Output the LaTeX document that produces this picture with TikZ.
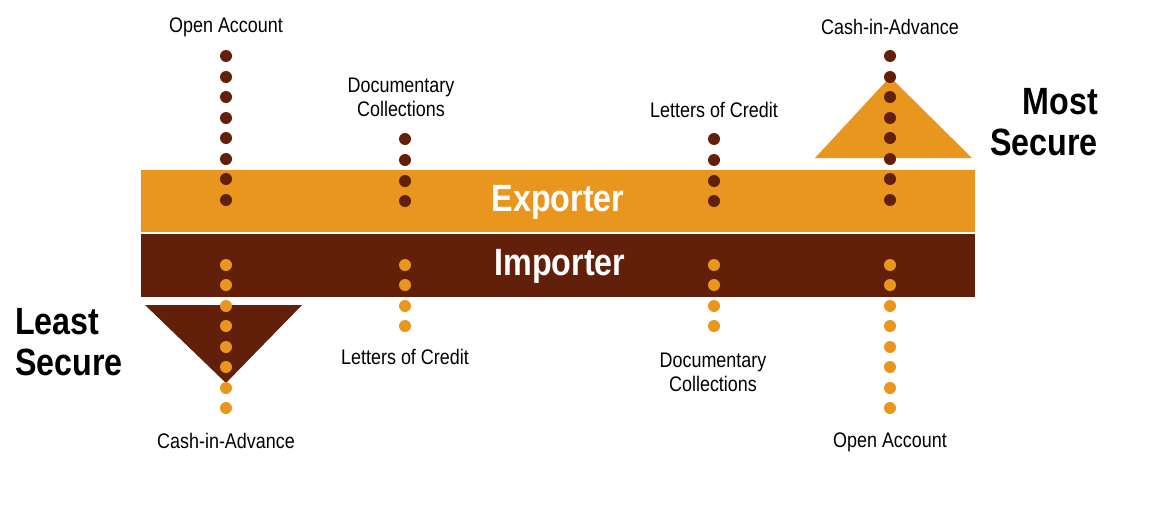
\documentclass[tikz,border=0pt]{standalone}
\usepackage{fontspec}
\setmainfont{Liberation Sans}
\definecolor{org}{HTML}{E8961E}
\definecolor{brn}{HTML}{62200A}
\begin{document}
\begin{tikzpicture}[x=0.025cm,y=-0.025cm,
 lbl/.style={font=\fontsize{15}{17}\selectfont,xscale=0.85,align=center,text=black},
 big/.style={font=\bfseries\fontsize{27}{29}\selectfont,xscale=0.85},
 ddot/.style={circle,fill=brn,inner sep=0pt,minimum size=0.3cm},
 odot/.style={circle,fill=org,inner sep=0pt,minimum size=0.3cm}]
\useasboundingbox (0,0) rectangle (1160,513);
\fill[org] (141,170) rectangle (975,232);
\fill[brn] (141,234) rectangle (975,297);
\fill[brn] (145,305) -- (302,305) -- (226,383) -- cycle;
\fill[org] (815,158) -- (972,158) -- (890,77) -- cycle;
\node[big,text=white] (exp) at (558,202) {Exporter};
\node[big,text=white] (imp) at (560,266) {Importer};
\node[big,text=black,align=right,anchor=east] (most) at (1102,122) {Most\\Secure};
\node[big,text=black,align=left,anchor=west] (least) at (11,342) {Least\\Secure};
\foreach \y in {56,77,97,118,138,159,179,200}{
 \node[ddot] at (226,\y) {}; \node[ddot] at (890,\y) {};}
\foreach \y in {139,160,181,201}{
 \node[ddot] at (405,\y) {}; \node[ddot] at (714,\y) {};}
\foreach \y in {265,285,306,326,347,367,388,408}{
 \node[odot] at (226,\y) {}; \node[odot] at (890,\y) {};}
\foreach \y in {265,285,306,326}{
 \node[odot] at (405,\y) {}; \node[odot] at (714,\y) {};}
\node[lbl] (t1) at (226,27) {Open Account};
\node[lbl] (t2) at (401,97) {Documentary\\Collections};
\node[lbl] (t3) at (714,110) {Letters of Credit};
\node[lbl] (t4) at (890,27) {Cash-in-Advance};
\node[lbl] (b1) at (226,441) {Cash-in-Advance};
\node[lbl] (b2) at (405,357) {Letters of Credit};
\node[lbl] (b3) at (713,372) {Documentary\\Collections};
\node[lbl] (b4) at (890,442) {Open Account};
\end{tikzpicture}
\end{document}
